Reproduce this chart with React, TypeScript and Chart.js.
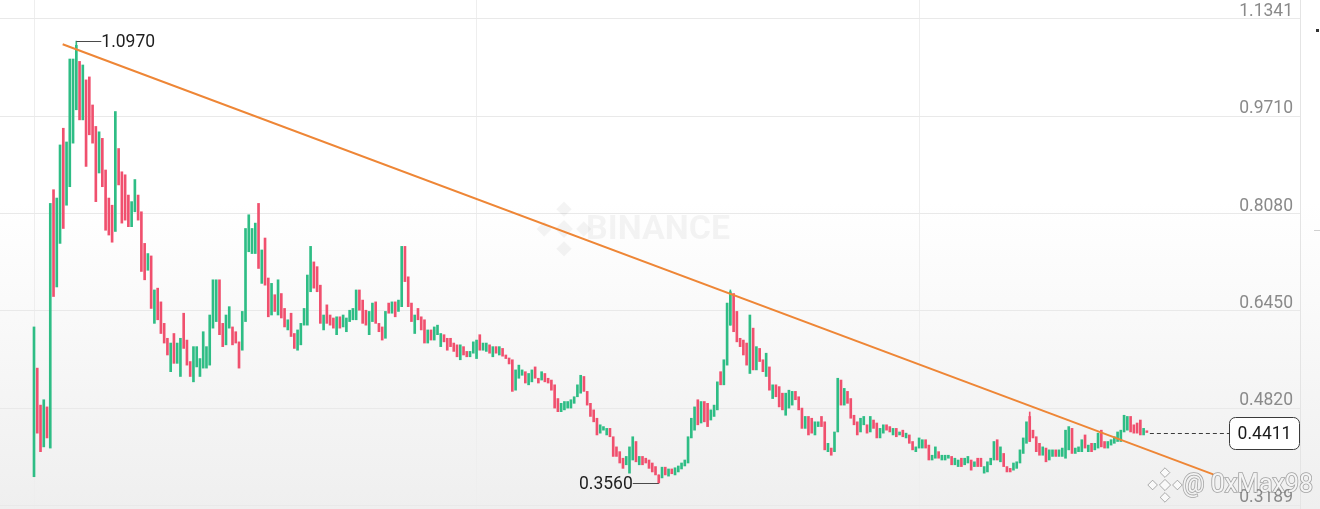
import { useEffect, useRef } from "react";
import { Chart, registerables } from "chart.js";

Chart.register(...registerables);

// ---- data ----
const opens = [
  0.367, 0.549, 0.487, 0.417, 0.484, 0.415, 0.848, 0.685, 0.758, 0.951,
  0.822, 0.853, 0.926, 0.982, 1.063, 0.965, 1.032, 1.037, 0.990, 0.954,
  0.876, 0.934, 0.881, 0.834, 0.822, 0.778, 0.917, 0.878, 0.873, 0.839,
  0.786, 0.811, 0.839, 0.811, 0.758, 0.713, 0.737, 0.624, 0.683, 0.660,
  0.624, 0.599, 0.543, 0.607, 0.557, 0.535, 0.641, 0.596, 0.560, 0.526,
  0.551, 0.535, 0.549, 0.549, 0.554, 0.616, 0.627, 0.697, 0.624, 0.588,
  0.616, 0.618, 0.610, 0.593, 0.579, 0.627, 0.744, 0.741, 0.741, 0.825,
  0.691, 0.767, 0.700, 0.638, 0.672, 0.638, 0.674, 0.649, 0.613, 0.641,
  0.607, 0.579, 0.588, 0.621, 0.621, 0.677, 0.727, 0.719, 0.688, 0.613,
  0.655, 0.638, 0.633, 0.605, 0.635, 0.618, 0.610, 0.627, 0.630, 0.630,
  0.680, 0.663, 0.646, 0.605, 0.627, 0.660, 0.624, 0.618, 0.599, 0.658,
  0.641, 0.660, 0.644, 0.652, 0.753, 0.702, 0.658, 0.607, 0.649, 0.635,
  0.630, 0.591, 0.613, 0.596, 0.605, 0.585, 0.605, 0.599, 0.599, 0.591,
  0.588, 0.563, 0.585, 0.577, 0.568, 0.574, 0.565, 0.605, 0.579, 0.577,
  0.588, 0.568, 0.585, 0.571, 0.582, 0.571, 0.566, 0.563, 0.512, 0.532,
  0.537, 0.543, 0.521, 0.526, 0.551, 0.532, 0.529, 0.540, 0.532, 0.529,
  0.521, 0.498, 0.476, 0.479, 0.482, 0.482, 0.490, 0.501, 0.507, 0.535,
  0.510, 0.490, 0.479, 0.465, 0.440, 0.445, 0.437, 0.448, 0.434, 0.417,
  0.409, 0.398, 0.387, 0.373, 0.395, 0.426, 0.387, 0.401, 0.398, 0.395,
  0.390, 0.384, 0.370, 0.365, 0.383, 0.368, 0.380, 0.370, 0.375, 0.380,
  0.385, 0.390, 0.432, 0.445, 0.496, 0.457, 0.493, 0.490, 0.462, 0.468,
  0.479, 0.543, 0.521, 0.554, 0.621, 0.674, 0.644, 0.599, 0.596, 0.591,
  0.540, 0.616, 0.546, 0.582, 0.563, 0.535, 0.551, 0.498, 0.521, 0.518,
  0.507, 0.470, 0.482, 0.487, 0.510, 0.501, 0.482, 0.448, 0.468, 0.465,
  0.437, 0.451, 0.468, 0.459, 0.409, 0.415, 0.409, 0.442, 0.529, 0.487,
  0.510, 0.498, 0.470, 0.459, 0.442, 0.454, 0.454, 0.442, 0.462, 0.457,
  0.432, 0.440, 0.454, 0.451, 0.437, 0.448, 0.437, 0.445, 0.432, 0.437,
  0.426, 0.409, 0.415, 0.415, 0.429, 0.420, 0.395, 0.398, 0.409, 0.395,
  0.395, 0.398, 0.401, 0.387, 0.384, 0.398, 0.387, 0.390, 0.395, 0.384,
  0.398, 0.398, 0.373, 0.375, 0.387, 0.395, 0.429, 0.392, 0.406, 0.384,
  0.381, 0.378, 0.381, 0.390, 0.406, 0.423, 0.468, 0.445, 0.434, 0.423,
  0.403, 0.415, 0.395, 0.401, 0.412, 0.401, 0.401, 0.398, 0.412, 0.448,
  0.406, 0.409, 0.409, 0.437, 0.409, 0.423, 0.412, 0.415, 0.445, 0.426,
  0.415, 0.420, 0.423, 0.426, 0.426, 0.442, 0.445, 0.468, 0.454, 0.457,
  0.462, 0.437, 0.444,
];

const closes = [
  0.618, 0.440, 0.409, 0.496, 0.432, 0.825, 0.669, 0.834, 0.923, 0.783,
  0.928, 1.067, 1.067, 1.090, 0.965, 1.057, 0.887, 0.940, 0.926, 0.828,
  0.945, 0.853, 0.780, 0.772, 0.760, 0.979, 0.856, 0.792, 0.797, 0.786,
  0.828, 0.865, 0.797, 0.711, 0.697, 0.741, 0.649, 0.680, 0.630, 0.607,
  0.591, 0.571, 0.591, 0.557, 0.591, 0.599, 0.582, 0.554, 0.535, 0.585,
  0.585, 0.565, 0.610, 0.585, 0.638, 0.697, 0.697, 0.605, 0.585, 0.638,
  0.652, 0.588, 0.591, 0.549, 0.644, 0.783, 0.806, 0.783, 0.792, 0.716,
  0.747, 0.688, 0.635, 0.691, 0.644, 0.697, 0.633, 0.618, 0.630, 0.602,
  0.582, 0.613, 0.624, 0.649, 0.705, 0.753, 0.683, 0.677, 0.624, 0.638,
  0.624, 0.621, 0.616, 0.635, 0.616, 0.638, 0.633, 0.646, 0.649, 0.680,
  0.646, 0.624, 0.621, 0.644, 0.658, 0.624, 0.610, 0.596, 0.644, 0.641,
  0.660, 0.635, 0.663, 0.753, 0.694, 0.652, 0.627, 0.638, 0.630, 0.613,
  0.591, 0.613, 0.596, 0.618, 0.621, 0.607, 0.593, 0.579, 0.585, 0.577,
  0.568, 0.588, 0.571, 0.568, 0.577, 0.593, 0.596, 0.579, 0.591, 0.591,
  0.574, 0.585, 0.574, 0.585, 0.569, 0.565, 0.556, 0.510, 0.546, 0.554,
  0.546, 0.524, 0.540, 0.546, 0.532, 0.524, 0.543, 0.526, 0.524, 0.512,
  0.482, 0.476, 0.490, 0.493, 0.493, 0.496, 0.501, 0.521, 0.537, 0.510,
  0.487, 0.468, 0.459, 0.437, 0.454, 0.451, 0.448, 0.434, 0.401, 0.401,
  0.390, 0.381, 0.401, 0.417, 0.434, 0.392, 0.401, 0.387, 0.390, 0.381,
  0.375, 0.370, 0.357, 0.383, 0.370, 0.380, 0.372, 0.382, 0.385, 0.390,
  0.395, 0.434, 0.465, 0.484, 0.454, 0.493, 0.459, 0.451, 0.479, 0.487,
  0.526, 0.521, 0.563, 0.658, 0.677, 0.610, 0.593, 0.585, 0.571, 0.554,
  0.638, 0.546, 0.585, 0.560, 0.543, 0.574, 0.512, 0.521, 0.501, 0.484,
  0.479, 0.507, 0.512, 0.510, 0.496, 0.479, 0.448, 0.468, 0.437, 0.440,
  0.459, 0.459, 0.451, 0.412, 0.423, 0.403, 0.442, 0.532, 0.487, 0.515,
  0.490, 0.465, 0.454, 0.437, 0.465, 0.468, 0.440, 0.468, 0.448, 0.432,
  0.448, 0.454, 0.445, 0.442, 0.448, 0.434, 0.442, 0.434, 0.440, 0.423,
  0.412, 0.417, 0.432, 0.429, 0.415, 0.395, 0.403, 0.417, 0.398, 0.403,
  0.403, 0.403, 0.387, 0.398, 0.395, 0.384, 0.398, 0.401, 0.378, 0.392,
  0.384, 0.384, 0.384, 0.392, 0.398, 0.426, 0.395, 0.417, 0.384, 0.375,
  0.375, 0.390, 0.392, 0.412, 0.432, 0.459, 0.426, 0.432, 0.409, 0.403,
  0.417, 0.392, 0.412, 0.412, 0.401, 0.412, 0.415, 0.445, 0.451, 0.406,
  0.415, 0.417, 0.429, 0.415, 0.420, 0.409, 0.423, 0.440, 0.417, 0.415,
  0.426, 0.429, 0.434, 0.442, 0.445, 0.470, 0.468, 0.442, 0.440, 0.440,
  0.437, 0.448, 0.4411,
];

// visible wicks (candle index, high, low)
const wickIndex = [13, 192, 214, 306];
const wickHigh = [1.097, 0.370, 0.680, 0.4755];
const wickLow = [0.982, 0.356, 0.621, 0.426];

const yTickValues = [0.3189, 0.482, 0.645, 0.808, 0.971, 1.1341];
const timeGridIndex = [0, 136, 272];

const trendIndex = [8.8, 362.4];
const trendValue = [1.0917, 0.371];

const peakIndex = 13;
const peakValue = 1.097;
const troughIndex = 192;
const troughValue = 0.356;

const UP = "#2EBD85";
const DOWN = "#F0506E";
const FONT = "Roboto, 'Noto Sans', sans-serif";

function roundRect(ctx: CanvasRenderingContext2D, x: number, y: number, w: number, h: number, r: number) {
  ctx.beginPath();
  ctx.moveTo(x + r, y);
  ctx.lineTo(x + w - r, y);
  ctx.arcTo(x + w, y, x + w, y + r, r);
  ctx.lineTo(x + w, y + h - r);
  ctx.arcTo(x + w, y + h, x + w - r, y + h, r);
  ctx.lineTo(x + r, y + h);
  ctx.arcTo(x, y + h, x, y + h - r, r);
  ctx.lineTo(x, y + r);
  ctx.arcTo(x, y, x + r, y, r);
  ctx.closePath();
}

function drawLogo(ctx: CanvasRenderingContext2D, cx: number, cy: number, s: number, fill: string, stroke?: string) {
  const shapes: Array<[number, number, number]> = [
    [0, 0, s * 0.28],
    [0, -s * 0.62, s * 0.24],
    [0, s * 0.62, s * 0.24],
    [-s * 0.62, 0, s * 0.24],
    [s * 0.62, 0, s * 0.24],
  ];
  for (const [dx, dy, r] of shapes) {
    ctx.beginPath();
    ctx.moveTo(cx + dx, cy + dy - r);
    ctx.lineTo(cx + dx + r, cy + dy);
    ctx.lineTo(cx + dx, cy + dy + r);
    ctx.lineTo(cx + dx - r, cy + dy);
    ctx.closePath();
    ctx.fillStyle = fill;
    ctx.fill();
    if (stroke) {
      ctx.strokeStyle = stroke;
      ctx.lineWidth = 1;
      ctx.stroke();
    }
  }
}

const overlayPlugin = {
  id: "overlay",
  beforeDatasetsDraw(chart: any) {
    const ctx: CanvasRenderingContext2D = chart.ctx;
    ctx.save();
    // faint BINANCE watermark
    drawLogo(ctx, 564, 229, 32, "rgba(0,0,0,0.045)");
    ctx.font = `bold 34px ${FONT}`;
    ctx.fillStyle = "rgba(0,0,0,0.045)";
    ctx.textAlign = "left";
    ctx.textBaseline = "middle";
    ctx.fillText("BINANCE", 586, 230);
    ctx.restore();
  },
  afterDraw(chart: any) {
    const ctx: CanvasRenderingContext2D = chart.ctx;
    const xs = chart.scales.x;
    const ys = chart.scales.y;
    const area = chart.chartArea;
    ctx.save();

    // right border of price pane
    ctx.strokeStyle = "#e4e4e4";
    ctx.lineWidth = 1;
    ctx.beginPath();
    ctx.moveTo(area.right + 0.5, 0);
    ctx.lineTo(area.right + 0.5, chart.height);
    ctx.stroke();
    ctx.strokeStyle = "#d0d0d0";
    ctx.beginPath();
    ctx.moveTo(area.right + 14, 230.5);
    ctx.lineTo(chart.width, 230.5);
    ctx.stroke();
    ctx.fillStyle = "#333";
    ctx.fillRect(area.right + 16, 29, 3, 3);

    // y labels
    ctx.font = `17.5px ${FONT}`;
    ctx.fillStyle = "#8a8a8a";
    ctx.textAlign = "right";
    ctx.textBaseline = "alphabetic";
    for (const v of yTickValues) {
      const y = ys.getPixelForValue(v);
      ctx.fillText(v.toFixed(4), area.right - 7, y - 3);
    }

    // peak label
    ctx.strokeStyle = "#4a4a4a";
    ctx.lineWidth = 1;
    const px = xs.getPixelForValue(peakIndex);
    const py = ys.getPixelForValue(peakValue);
    ctx.beginPath();
    ctx.moveTo(px, Math.round(py) + 0.5);
    ctx.lineTo(px + 25, Math.round(py) + 0.5);
    ctx.stroke();
    ctx.fillStyle = "#1e1e1e";
    ctx.textAlign = "left";
    ctx.textBaseline = "middle";
    ctx.fillText(peakValue.toFixed(4), px + 25, py + 2);

    // trough label
    const tx = xs.getPixelForValue(troughIndex);
    const ty = ys.getPixelForValue(troughValue);
    ctx.beginPath();
    ctx.moveTo(tx - 26, Math.round(ty) + 0.5);
    ctx.lineTo(tx, Math.round(ty) + 0.5);
    ctx.stroke();
    ctx.textAlign = "right";
    ctx.fillText(troughValue.toFixed(4), tx - 26, ty + 1);

    // current price
    const last = closes[closes.length - 1];
    const lx = xs.getPixelForValue(closes.length - 1) + 3;
    const ly = Math.round(ys.getPixelForValue(last)) + 0.5;
    const boxL = 1229;
    ctx.setLineDash([4, 3]);
    ctx.strokeStyle = "#3c3c3c";
    ctx.beginPath();
    ctx.moveTo(lx, ly);
    ctx.lineTo(boxL, ly);
    ctx.stroke();
    ctx.setLineDash([]);
    roundRect(ctx, boxL + 0.5, ly - 16, 70, 32, 6);
    ctx.fillStyle = "#ffffff";
    ctx.fill();
    ctx.strokeStyle = "#3a3a3a";
    ctx.stroke();
    ctx.fillStyle = "#1a1a1a";
    ctx.textAlign = "center";
    ctx.fillText(last.toFixed(4), boxL + 35.5, ly + 1);

    // author watermark
    drawLogo(ctx, 1165, 485, 20, "rgba(250,250,250,0.9)", "rgba(120,120,120,0.6)");
    ctx.font = `25px ${FONT}`;
    ctx.textAlign = "left";
    ctx.textBaseline = "middle";
    ctx.lineWidth = 1.6;
    ctx.strokeStyle = "rgba(110,110,110,0.6)";
    ctx.strokeText("@ 0xMax98", 1182, 486);
    ctx.fillStyle = "rgba(248,248,248,0.92)";
    ctx.fillText("@ 0xMax98", 1182, 486);

    ctx.restore();
  },
};

export default function App() {
  const ref = useRef<HTMLCanvasElement | null>(null);

  useEffect(() => {
    if (!ref.current) return;
    const bodies = opens.map((o, i) => ({ x: i, y: [o, closes[i]] }));
    const bodyColors = opens.map((o, i) => (closes[i] >= o ? UP : DOWN));
    const wicks = wickIndex.map((idx, k) => ({ x: idx, y: [wickLow[k], wickHigh[k]] }));
    const wickColors = wickIndex.map((idx) => (closes[idx] >= opens[idx] ? UP : DOWN));
    const trend = trendIndex.map((x, k) => ({ x, y: trendValue[k] }));

    const chart = new Chart(ref.current, {
      type: "bar",
      data: {
        datasets: [
          {
            type: "line",
            data: trend as any,
            borderColor: "#EE8636",
            borderWidth: 2,
            pointRadius: 0,
            order: 0,
          } as any,
          {
            type: "bar",
            data: wicks as any,
            backgroundColor: wickColors,
            barThickness: 1,
            grouped: false,
            order: 1,
          } as any,
          {
            type: "bar",
            data: bodies as any,
            backgroundColor: bodyColors,
            barThickness: 2,
            grouped: false,
            order: 2,
          } as any,
        ],
      },
      options: {
        animation: false,
        responsive: false,
        events: [],
        layout: { padding: { left: 0, right: 20, top: 0, bottom: 0 } },
        plugins: { legend: { display: false }, tooltip: { enabled: false } },
        scales: {
          x: {
            type: "linear",
            offset: false,
            min: -10.45,
            max: 389.06,
            grid: { color: "#eeeeee", drawTicks: false, offset: false },
            border: { display: false },
            ticks: { display: false },
            afterBuildTicks: (s: any) => {
              s.ticks = timeGridIndex.map((v) => ({ value: v }));
            },
          },
          y: {
            type: "linear",
            position: "right",
            min: 0.3129,
            max: 1.1659,
            grid: { color: "#e9e9e9", drawTicks: false },
            border: { display: false },
            ticks: { display: false },
            afterBuildTicks: (s: any) => {
              s.ticks = yTickValues.map((v) => ({ value: v }));
            },
          },
        },
      } as any,
      plugins: [overlayPlugin],
    });
    return () => chart.destroy();
  }, []);

  return (
    <div
      style={{
        position: "fixed",
        left: 0,
        top: 0,
        width: 1320,
        height: 509,
        background: "linear-gradient(to bottom, #ffffff 0%, #ffffff 40%, #efefef 100%)",
      }}
    >
      <canvas ref={ref} width={1320} height={509} style={{ display: "block", width: 1320, height: 509 }} />
    </div>
  );
}
